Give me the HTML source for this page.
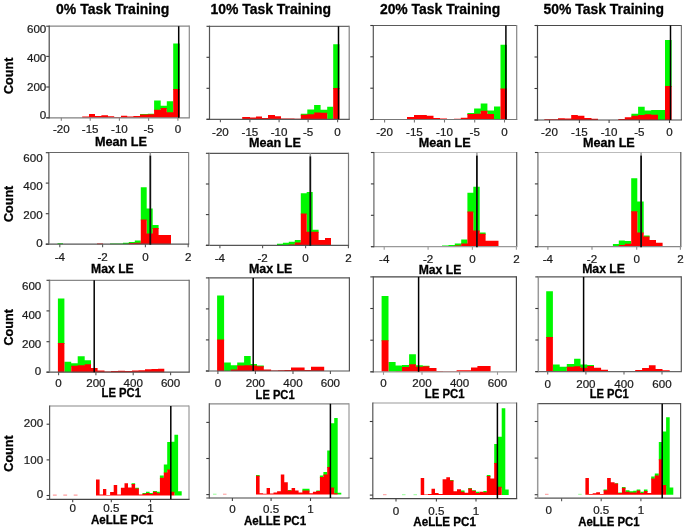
<!DOCTYPE html>
<html><head><meta charset="utf-8"><title>Task Training Histograms</title>
<style>
html,body{margin:0;padding:0;background:#fff;}
body{width:685px;height:529px;overflow:hidden;}
svg{display:block;filter:blur(0.35px);}
.ttl{font-family:"Liberation Sans",Arial,sans-serif;font-weight:bold;font-size:14.9px;fill:#000;stroke:#000;stroke-width:0.3px;}
.cnt{font-family:"Liberation Sans",Arial,sans-serif;font-weight:bold;font-size:13.4px;fill:#000;stroke:#000;stroke-width:0.3px;}
.xl{font-family:"Liberation Sans",Arial,sans-serif;font-weight:bold;font-size:12.4px;fill:#000;stroke:#000;stroke-width:0.3px;}
.tk{font-family:"Liberation Sans",Arial,sans-serif;font-size:11.6px;fill:#1a1a1a;stroke:#1a1a1a;stroke-width:0.22px;}
</style></head>
<body>
<svg width="685" height="529" viewBox="0 0 685 529">
<rect width="685" height="529" fill="#fff"/>
<text class="ttl" x="56.1" y="14.1" textLength="113.2" lengthAdjust="spacingAndGlyphs">0% Task Training</text>
<text class="ttl" x="210.4" y="14.1" textLength="120.6" lengthAdjust="spacingAndGlyphs">10% Task Training</text>
<text class="ttl" x="379.9" y="14.1" textLength="120.4" lengthAdjust="spacingAndGlyphs">20% Task Training</text>
<text class="ttl" x="543.5" y="14.1" textLength="120.4" lengthAdjust="spacingAndGlyphs">50% Task Training</text>
<text class="cnt" transform="translate(13.0 75.8) rotate(-90)" x="0" y="0" text-anchor="middle" textLength="36.4" lengthAdjust="spacingAndGlyphs">Count</text>
<text class="cnt" transform="translate(13.0 203.9) rotate(-90)" x="0" y="0" text-anchor="middle" textLength="36.4" lengthAdjust="spacingAndGlyphs">Count</text>
<text class="cnt" transform="translate(13.0 327.3) rotate(-90)" x="0" y="0" text-anchor="middle" textLength="36.4" lengthAdjust="spacingAndGlyphs">Count</text>
<text class="cnt" transform="translate(13.0 453.5) rotate(-90)" x="0" y="0" text-anchor="middle" textLength="36.4" lengthAdjust="spacingAndGlyphs">Count</text>
<path d="M140 114H147.8V115.5H140ZM147.8 113.7H154.1V115.3H147.8ZM154.1 100.4H160.7V110.7H154.1ZM160.7 105.7H166.8V108.9H160.7ZM166.8 101.3H173.2V113.3H166.8ZM173.2 43.5H179.8V89.9H173.2Z" fill="#00f800"/>
<path d="M82.2 116.6H89V117.8H82.2ZM89 113.9H95V117.8H89ZM95 116H101.4V117.8H95ZM101.4 115.2H108V117.8H101.4ZM108 116.3H114.2V117.8H108ZM114.2 117H121V117.8H114.2ZM121 115.8H127.2V117.8H121ZM127.2 116.5H133.4V117.8H127.2ZM133.4 116H140V117.8H133.4ZM140 114.5H147.8V117.8H140ZM147.8 114.3H154.1V117.8H147.8ZM154.1 109.7H160.7V117.8H154.1ZM160.7 107.9H166.8V117.8H160.7ZM166.8 112.3H173.2V117.8H166.8ZM173.2 88.9H179.8V117.8H173.2Z" fill="#ff0000"/>
<path d="M49.2 26.2H189.3" fill="none" stroke="#858585" stroke-width="1.2"/>
<path d="M189.3 25.6V117.8" fill="none" stroke="#8a8a8a" stroke-width="1.2"/>
<path d="M46.2 117.8H189.9" fill="none" stroke="#808080" stroke-width="1.2"/>
<path d="M49.2 25.6V118.4" fill="none" stroke="#4a4a4a" stroke-width="1.2"/>
<path d="M46.2 26.2H49.2" stroke="#3a3a3a" stroke-width="1.1"/>
<path d="M46.2 56.4H49.2" stroke="#3a3a3a" stroke-width="1.1"/>
<path d="M46.2 87H49.2" stroke="#3a3a3a" stroke-width="1.1"/>
<path d="M46.2 117.8H49.2" stroke="#3a3a3a" stroke-width="1.1"/>
<path d="M61.3 117.8V120.8" stroke="#808080" stroke-width="1.1"/>
<path d="M90.2 117.8V120.8" stroke="#808080" stroke-width="1.1"/>
<path d="M119.4 117.8V120.8" stroke="#808080" stroke-width="1.1"/>
<path d="M148.6 117.8V120.8" stroke="#808080" stroke-width="1.1"/>
<path d="M177.9 117.8V120.8" stroke="#808080" stroke-width="1.1"/>
<path d="M178.7 26.2V117.8" stroke="#000" stroke-width="1.5"/>
<text class="tk" x="46.3" y="33.3" text-anchor="end">600</text>
<text class="tk" x="46.3" y="61.9" text-anchor="end">400</text>
<text class="tk" x="46.3" y="91.2" text-anchor="end">200</text>
<text class="tk" x="46.3" y="118.8" text-anchor="end">0</text>
<text class="tk" x="61.3" y="133.1" text-anchor="middle">-20</text>
<text class="tk" x="90.2" y="133.1" text-anchor="middle">-15</text>
<text class="tk" x="119.4" y="133.1" text-anchor="middle">-10</text>
<text class="tk" x="148.6" y="133.1" text-anchor="middle">-5</text>
<text class="tk" x="177.9" y="133.1" text-anchor="middle">0</text>
<text class="xl" x="94.9" y="145.6" textLength="52.1" lengthAdjust="spacingAndGlyphs">Mean LE</text>
<path d="M300.8 113.7H307.3V115.7H300.8ZM307.3 109.4H314.1V115.3H307.3ZM314.1 105H320.6V113.4H314.1ZM320.6 109.8H327.2V113.7H320.6ZM327.2 106.8H333.2V119.3H327.2ZM333.2 44.2H339.5V89.1H333.2Z" fill="#00f800"/>
<path d="M242.2 117H250V119.3H242.2ZM250 117.5H256V119.3H250ZM256 116.4H262V119.3H256ZM262 117.9H268V119.3H262ZM268 115H275V119.3H268ZM275 116.3H281V119.3H275ZM281 118.4H288V119.3H281ZM288 118.5H294.5V119.3H288ZM294.5 118.8H300.8V119.3H294.5ZM300.8 114.7H307.3V119.3H300.8ZM307.3 114.3H314.1V119.3H307.3ZM314.1 112.4H320.6V119.3H314.1ZM320.6 112.7H327.2V119.3H320.6ZM333.2 88.1H339.5V119.3H333.2Z" fill="#ff0000"/>
<path d="M209.5 26.3H349.2" fill="none" stroke="#6a6a6a" stroke-width="1.2"/>
<path d="M349.2 25.7V119.3" fill="none" stroke="#808080" stroke-width="1.2"/>
<path d="M206.5 119.3H349.8" fill="none" stroke="#5a5a5a" stroke-width="1.2"/>
<path d="M209.5 25.7V119.9" fill="none" stroke="#555" stroke-width="1.2"/>
<path d="M206.5 26.3H209.5" stroke="#3a3a3a" stroke-width="1.1"/>
<path d="M206.5 57.3H209.5" stroke="#3a3a3a" stroke-width="1.1"/>
<path d="M206.5 88.3H209.5" stroke="#3a3a3a" stroke-width="1.1"/>
<path d="M206.5 119.3H209.5" stroke="#3a3a3a" stroke-width="1.1"/>
<path d="M220.4 119.3V122.3" stroke="#5a5a5a" stroke-width="1.1"/>
<path d="M249.9 119.3V122.3" stroke="#5a5a5a" stroke-width="1.1"/>
<path d="M279.1 119.3V122.3" stroke="#5a5a5a" stroke-width="1.1"/>
<path d="M308.1 119.3V122.3" stroke="#5a5a5a" stroke-width="1.1"/>
<path d="M337.6 119.3V122.3" stroke="#5a5a5a" stroke-width="1.1"/>
<path d="M338.5 26.3V119.3" stroke="#000" stroke-width="1.5"/>
<text class="tk" x="220.4" y="135.5" text-anchor="middle">-20</text>
<text class="tk" x="249.9" y="135.5" text-anchor="middle">-15</text>
<text class="tk" x="279.1" y="135.5" text-anchor="middle">-10</text>
<text class="tk" x="308.1" y="135.5" text-anchor="middle">-5</text>
<text class="tk" x="337.6" y="135.5" text-anchor="middle">0</text>
<text class="xl" x="249.1" y="146.5" textLength="51.8" lengthAdjust="spacingAndGlyphs">Mean LE</text>
<path d="M467.4 113H474.1V115H467.4ZM474.1 108.4H480.7V114.7H474.1ZM480.7 103.4H487.4V111.8H480.7ZM487.4 110.4H494V115H487.4ZM494 106.4H500.5V119.5H494ZM500.5 44.8H506.9V89.5H500.5Z" fill="#00f800"/>
<path d="M407 117H414V119.5H407ZM414 115H426.8V119.5H414ZM426.8 115.8H433.5V119.5H426.8ZM433.5 117.9H440V119.5H433.5ZM440 118.5H447V119.5H440ZM447 119H454V119.5H447ZM454 118.8H460.8V119.5H454ZM460.8 117.7H467.4V119.5H460.8ZM467.4 114H474.1V119.5H467.4ZM474.1 113.7H480.7V119.5H474.1ZM480.7 110.8H487.4V119.5H480.7ZM487.4 114H494V119.5H487.4ZM500.5 88.5H506.9V119.5H500.5Z" fill="#ff0000"/>
<path d="M373.3 25.5H516.7" fill="none" stroke="#5a5a5a" stroke-width="1.2"/>
<path d="M516.7 24.9V119.5" fill="none" stroke="#858585" stroke-width="1.2"/>
<path d="M370.3 119.5H517.3" fill="none" stroke="#777" stroke-width="1.2"/>
<path d="M373.3 24.9V120.1" fill="none" stroke="#555" stroke-width="1.2"/>
<path d="M370.3 25.5H373.3" stroke="#3a3a3a" stroke-width="1.1"/>
<path d="M370.3 56.8H373.3" stroke="#3a3a3a" stroke-width="1.1"/>
<path d="M370.3 88.2H373.3" stroke="#3a3a3a" stroke-width="1.1"/>
<path d="M370.3 119.5H373.3" stroke="#3a3a3a" stroke-width="1.1"/>
<path d="M384.6 119.5V122.5" stroke="#777" stroke-width="1.1"/>
<path d="M414.4 119.5V122.5" stroke="#777" stroke-width="1.1"/>
<path d="M444.5 119.5V122.5" stroke="#777" stroke-width="1.1"/>
<path d="M474.7 119.5V122.5" stroke="#777" stroke-width="1.1"/>
<path d="M504.5 119.5V122.5" stroke="#777" stroke-width="1.1"/>
<path d="M505.9 25.5V119.5" stroke="#000" stroke-width="1.5"/>
<text class="tk" x="384.6" y="135.7" text-anchor="middle">-20</text>
<text class="tk" x="414.4" y="135.7" text-anchor="middle">-15</text>
<text class="tk" x="444.5" y="135.7" text-anchor="middle">-10</text>
<text class="tk" x="474.7" y="135.7" text-anchor="middle">-5</text>
<text class="tk" x="504.5" y="135.7" text-anchor="middle">0</text>
<text class="xl" x="418.7" y="147" textLength="51.9" lengthAdjust="spacingAndGlyphs">Mean LE</text>
<path d="M631.4 113.7H638.1V116.7H631.4ZM638.1 106.8H644.7V116H638.1ZM644.7 110.4H651.2V115.3H644.7ZM651.2 110H658V115.7H651.2ZM658 110H665V120H658ZM665 40H671.6V87.1H665Z" fill="#00f800"/>
<path d="M544.3 119.3H558V120H544.3ZM558 118.3H564.8V120H558ZM564.8 118.5H571.2V120H564.8ZM571.2 115.1H577.8V120H571.2ZM577.8 115.8H584.4V120H577.8ZM584.4 117.9H591.5V120H584.4ZM591.5 118.7H598V120H591.5ZM618.3 118.9H624.8V120H618.3ZM624.8 117.3H631.4V120H624.8ZM631.4 115.7H638.1V120H631.4ZM638.1 115H644.7V120H638.1ZM644.7 114.3H651.2V120H644.7ZM651.2 114.7H658V120H651.2ZM665 86.1H671.6V120H665Z" fill="#ff0000"/>
<path d="M537.5 25.5H681.4" fill="none" stroke="#4a4a4a" stroke-width="1.2"/>
<path d="M681.4 24.9V120" fill="none" stroke="#777" stroke-width="1.2"/>
<path d="M534.5 120H682" fill="none" stroke="#4a4a4a" stroke-width="1.2"/>
<path d="M537.5 24.9V120.6" fill="none" stroke="#444" stroke-width="1.2"/>
<path d="M534.5 25.5H537.5" stroke="#3a3a3a" stroke-width="1.1"/>
<path d="M534.5 57H537.5" stroke="#3a3a3a" stroke-width="1.1"/>
<path d="M534.5 88.5H537.5" stroke="#3a3a3a" stroke-width="1.1"/>
<path d="M534.5 120H537.5" stroke="#3a3a3a" stroke-width="1.1"/>
<path d="M549.5 120V123" stroke="#4a4a4a" stroke-width="1.1"/>
<path d="M579.4 120V123" stroke="#4a4a4a" stroke-width="1.1"/>
<path d="M609.1 120V123" stroke="#4a4a4a" stroke-width="1.1"/>
<path d="M639.3 120V123" stroke="#4a4a4a" stroke-width="1.1"/>
<path d="M669.5 120V123" stroke="#4a4a4a" stroke-width="1.1"/>
<path d="M670.5 25.5V120" stroke="#000" stroke-width="1.5"/>
<text class="tk" x="549.5" y="136.4" text-anchor="middle">-20</text>
<text class="tk" x="579.4" y="136.4" text-anchor="middle">-15</text>
<text class="tk" x="609.1" y="136.4" text-anchor="middle">-10</text>
<text class="tk" x="639.3" y="136.4" text-anchor="middle">-5</text>
<text class="tk" x="669.5" y="136.4" text-anchor="middle">0</text>
<text class="xl" x="582.9" y="147" textLength="51.9" lengthAdjust="spacingAndGlyphs">Mean LE</text>
<path d="M57.5 243.3H63V244.2H57.5ZM110 243.4H122.9V244.2H110ZM122.9 242.8H128.8V244.2H122.9ZM128.8 242H134.8V244H128.8ZM134.8 240.4H140.8V243.8H134.8ZM140.8 187.3H146.7V220.5H140.8ZM146.7 208.6H152.7V234.4H146.7ZM152.7 224.9H158.6V229.1H152.7Z" fill="#00f800"/>
<path d="M97 243.4H103V244.2H97ZM128.8 243H134.8V244.2H128.8ZM134.8 242.8H140.8V244.2H134.8ZM140.8 219.5H146.7V244.2H140.8ZM146.7 233.4H152.7V244.2H146.7ZM152.7 228.1H158.6V244.2H152.7ZM158.6 235H171V244.2H158.6Z" fill="#ff0000"/>
<path d="M48.8 152.5H188.6" fill="none" stroke="#666" stroke-width="1.2"/>
<path d="M188.6 151.9V244.2" fill="none" stroke="#888" stroke-width="1.2"/>
<path d="M45.8 244.2H189.2" fill="none" stroke="#555" stroke-width="1.2"/>
<path d="M48.8 151.9V244.8" fill="none" stroke="#777" stroke-width="1.5"/>
<path d="M45.8 152.7H48.8" stroke="#3a3a3a" stroke-width="1.1"/>
<path d="M45.8 183.1H48.8" stroke="#3a3a3a" stroke-width="1.1"/>
<path d="M45.8 213.7H48.8" stroke="#3a3a3a" stroke-width="1.1"/>
<path d="M45.8 244.2H48.8" stroke="#3a3a3a" stroke-width="1.1"/>
<path d="M59.8 244.2V247.2" stroke="#555" stroke-width="1.1"/>
<path d="M102.6 244.2V247.2" stroke="#555" stroke-width="1.1"/>
<path d="M145.4 244.2V247.2" stroke="#555" stroke-width="1.1"/>
<path d="M188.2 244.2V247.2" stroke="#555" stroke-width="1.1"/>
<path d="M150.3 152.5V155.5" stroke="#999" stroke-width="1.5"/>
<path d="M150.3 155.5V244.7" stroke="#111" stroke-width="1.8"/>
<text class="tk" x="42.7" y="162" text-anchor="end">600</text>
<text class="tk" x="42.7" y="190.2" text-anchor="end">400</text>
<text class="tk" x="42.7" y="218.6" text-anchor="end">200</text>
<text class="tk" x="42.7" y="246.9" text-anchor="end">0</text>
<text class="tk" x="59.8" y="261.1" text-anchor="middle">-4</text>
<text class="tk" x="102.6" y="261.1" text-anchor="middle">-2</text>
<text class="tk" x="145.4" y="261.1" text-anchor="middle">0</text>
<text class="tk" x="188.2" y="261.1" text-anchor="middle">2</text>
<text class="xl" x="91.1" y="273" textLength="42.6" lengthAdjust="spacingAndGlyphs">Max LE</text>
<path d="M277 243.8H282.9V245.3H277ZM282.9 242.8H288.8V245.3H282.9ZM288.8 241.8H294.8V245.3H288.8ZM294.8 240H300.8V243.4H294.8ZM300.8 193.3H306.7V214.5H300.8ZM306.7 192.1H312.7V232.8H306.7ZM312.7 229.8H318.6V232.8H312.7Z" fill="#00f800"/>
<path d="M288.8 244.5H294.8V245.3H288.8ZM294.8 242.4H300.8V245.3H294.8ZM300.8 213.5H306.7V245.3H300.8ZM306.7 231.8H312.7V245.3H306.7ZM312.7 231.8H318.6V245.3H312.7ZM318.6 240H325V245.3H318.6ZM325 238H331V245.3H325Z" fill="#ff0000"/>
<path d="M208.9 153.3H348.5" fill="none" stroke="#555" stroke-width="1.2"/>
<path d="M348.5 152.7V245.3" fill="none" stroke="#777" stroke-width="1.2"/>
<path d="M205.9 245.3H349.1" fill="none" stroke="#555" stroke-width="1.2"/>
<path d="M208.9 152.7V245.9" fill="none" stroke="#888" stroke-width="1.5"/>
<path d="M205.9 153.3H208.9" stroke="#3a3a3a" stroke-width="1.1"/>
<path d="M205.9 184H208.9" stroke="#3a3a3a" stroke-width="1.1"/>
<path d="M205.9 214.6H208.9" stroke="#3a3a3a" stroke-width="1.1"/>
<path d="M205.9 245.3H208.9" stroke="#3a3a3a" stroke-width="1.1"/>
<path d="M219.9 245.3V248.3" stroke="#555" stroke-width="1.1"/>
<path d="M262.6 245.3V248.3" stroke="#555" stroke-width="1.1"/>
<path d="M305.6 245.3V248.3" stroke="#555" stroke-width="1.1"/>
<path d="M348.4 245.3V248.3" stroke="#555" stroke-width="1.1"/>
<path d="M310.3 153.3V156.3" stroke="#999" stroke-width="1.5"/>
<path d="M310.3 156.3V245.8" stroke="#111" stroke-width="1.8"/>
<text class="tk" x="219.9" y="261.8" text-anchor="middle">-4</text>
<text class="tk" x="262.6" y="261.8" text-anchor="middle">-2</text>
<text class="tk" x="305.6" y="261.8" text-anchor="middle">0</text>
<text class="tk" x="348.4" y="261.8" text-anchor="middle">2</text>
<text class="xl" x="249" y="272.9" textLength="43.3" lengthAdjust="spacingAndGlyphs">Max LE</text>
<path d="M442 245.5H448.5V246.7H442ZM448.5 245H454.8V246.7H448.5ZM454.8 243.4H461.2V246.5H454.8ZM461.2 239.4H467.4V244.4H461.2ZM467.4 192.7H473.3V212.6H467.4ZM473.3 186.7H479.7V231.4H473.3ZM479.7 232.4H485.6V234.8H479.7Z" fill="#00f800"/>
<path d="M454.8 245.5H461.2V246.7H454.8ZM461.2 243.4H467.4V246.7H461.2ZM467.4 211.6H473.3V246.7H467.4ZM473.3 230.4H479.7V246.7H473.3ZM479.7 233.8H485.6V246.7H479.7ZM485.6 240.8H498.5V246.7H485.6Z" fill="#ff0000"/>
<path d="M373.9 152.5H516.7" fill="none" stroke="#bbb" stroke-width="1.2"/>
<path d="M516.7 151.9V246.7" fill="none" stroke="#555" stroke-width="1.2"/>
<path d="M370.9 246.7H517.3" fill="none" stroke="#999" stroke-width="1.2"/>
<path d="M373.9 151.9V247.3" fill="none" stroke="#666" stroke-width="1.2"/>
<path d="M370.9 152.5H373.9" stroke="#3a3a3a" stroke-width="1.1"/>
<path d="M370.9 183.9H373.9" stroke="#3a3a3a" stroke-width="1.1"/>
<path d="M370.9 215.3H373.9" stroke="#3a3a3a" stroke-width="1.1"/>
<path d="M370.9 246.7H373.9" stroke="#3a3a3a" stroke-width="1.1"/>
<path d="M384.2 246.7V249.7" stroke="#999" stroke-width="1.1"/>
<path d="M428.1 246.7V249.7" stroke="#999" stroke-width="1.1"/>
<path d="M472.4 246.7V249.7" stroke="#999" stroke-width="1.1"/>
<path d="M516.4 246.7V249.7" stroke="#999" stroke-width="1.1"/>
<path d="M476.9 152.5V155.5" stroke="#999" stroke-width="1.5"/>
<path d="M476.9 155.5V247.2" stroke="#111" stroke-width="1.8"/>
<text class="tk" x="384.2" y="263" text-anchor="middle">-4</text>
<text class="tk" x="428.1" y="263" text-anchor="middle">-2</text>
<text class="tk" x="472.4" y="263" text-anchor="middle">0</text>
<text class="tk" x="516.4" y="263" text-anchor="middle">2</text>
<text class="xl" x="418.7" y="273.6" textLength="42.6" lengthAdjust="spacingAndGlyphs">Max LE</text>
<path d="M612.9 244H618.8V246.7H612.9ZM618.8 240.4H624.8V246H618.8ZM624.8 241H631.2V244.7H624.8ZM631.2 178.2H637.3V212.2H631.2ZM637.3 201.6H643.7V233.4H637.3ZM643.7 235.4H649.6V237.4H643.7Z" fill="#00f800"/>
<path d="M618.8 245H624.8V246.7H618.8ZM624.8 243.7H631.2V246.7H624.8ZM631.2 211.2H637.3V246.7H631.2ZM637.3 232.4H643.7V246.7H637.3ZM643.7 236.4H649.6V246.7H643.7ZM649.6 240H656V246.7H649.6ZM656 242.8H662.6V246.7H656Z" fill="#ff0000"/>
<path d="M537.9 152.5H680.8" fill="none" stroke="#bbb" stroke-width="1.2"/>
<path d="M680.8 151.9V246.7" fill="none" stroke="#555" stroke-width="1.2"/>
<path d="M534.9 246.7H681.4" fill="none" stroke="#888" stroke-width="1.2"/>
<path d="M537.9 151.9V247.3" fill="none" stroke="#888" stroke-width="1.5"/>
<path d="M534.9 152.5H537.9" stroke="#3a3a3a" stroke-width="1.1"/>
<path d="M534.9 183.9H537.9" stroke="#3a3a3a" stroke-width="1.1"/>
<path d="M534.9 215.3H537.9" stroke="#3a3a3a" stroke-width="1.1"/>
<path d="M534.9 246.7H537.9" stroke="#3a3a3a" stroke-width="1.1"/>
<path d="M547.9 246.7V249.7" stroke="#888" stroke-width="1.1"/>
<path d="M592 246.7V249.7" stroke="#888" stroke-width="1.1"/>
<path d="M636.7 246.7V249.7" stroke="#888" stroke-width="1.1"/>
<path d="M680.4 246.7V249.7" stroke="#888" stroke-width="1.1"/>
<path d="M641.1 152.5V155.5" stroke="#999" stroke-width="1.5"/>
<path d="M641.1 155.5V247.2" stroke="#111" stroke-width="1.8"/>
<text class="tk" x="547.9" y="263.4" text-anchor="middle">-4</text>
<text class="tk" x="592" y="263.4" text-anchor="middle">-2</text>
<text class="tk" x="636.7" y="263.4" text-anchor="middle">0</text>
<text class="tk" x="680.4" y="263.4" text-anchor="middle">2</text>
<text class="xl" x="582.2" y="273.4" textLength="42.8" lengthAdjust="spacingAndGlyphs">Max LE</text>
<path d="M57.9 298.4H64.4V343.9H57.9ZM64.4 361.7H71.2V372.2H64.4ZM71.2 363.3H77.7V366.7H71.2ZM77.7 356.3H84.7V366.3H77.7ZM84.7 360.3H91V365.3H84.7Z" fill="#00f800"/>
<path d="M57.9 342.9H64.4V372.2H57.9ZM71.2 365.7H77.7V372.2H71.2ZM77.7 365.3H84.7V372.2H77.7ZM84.7 364.3H91V372.2H84.7ZM91 367.9H97.6V372.2H91ZM97.6 370.6H104.5V372.2H97.6ZM104.5 371.5H111V372.2H104.5ZM111 371H118V372.2H111ZM118 370.8H125V372.2H118ZM125 371H132V372.2H125ZM132 370.5H138.5V372.2H132ZM138.5 370.2H145V372.2H138.5ZM145 369.2H151.5V372.2H145ZM151.5 369H158V372.2H151.5ZM158 368.8H164.3V372.2H158Z" fill="#ff0000"/>
<path d="M49.5 280.3H189.2" fill="none" stroke="#888" stroke-width="1.2"/>
<path d="M189.2 279.7V372.2" fill="none" stroke="#666" stroke-width="1.2"/>
<path d="M46.5 372.2H189.8" fill="none" stroke="#555" stroke-width="1.2"/>
<path d="M49.5 279.7V372.8" fill="none" stroke="#888" stroke-width="1.5"/>
<path d="M46.5 280.3H49.5" stroke="#3a3a3a" stroke-width="1.1"/>
<path d="M46.5 310.9H49.5" stroke="#3a3a3a" stroke-width="1.1"/>
<path d="M46.5 341.7H49.5" stroke="#3a3a3a" stroke-width="1.1"/>
<path d="M46.5 372.2H49.5" stroke="#3a3a3a" stroke-width="1.1"/>
<path d="M58.6 372.2V375.2" stroke="#555" stroke-width="1.1"/>
<path d="M95.9 372.2V375.2" stroke="#555" stroke-width="1.1"/>
<path d="M133.2 372.2V375.2" stroke="#555" stroke-width="1.1"/>
<path d="M170.6 372.2V375.2" stroke="#555" stroke-width="1.1"/>
<path d="M94.2 280.3V372.2" stroke="#000" stroke-width="1.5"/>
<text class="tk" x="41.3" y="289.9" text-anchor="end">600</text>
<text class="tk" x="41.3" y="318.8" text-anchor="end">400</text>
<text class="tk" x="41.3" y="347.7" text-anchor="end">200</text>
<text class="tk" x="41.3" y="375.3" text-anchor="end">0</text>
<text class="tk" x="58.6" y="387.3" text-anchor="middle">0</text>
<text class="tk" x="95.9" y="387.3" text-anchor="middle">200</text>
<text class="tk" x="133.2" y="387.3" text-anchor="middle">400</text>
<text class="tk" x="170.6" y="387.3" text-anchor="middle">600</text>
<text class="xl" x="101.6" y="397.2" textLength="39.4" lengthAdjust="spacingAndGlyphs">LE PC1</text>
<path d="M217.1 295.4H224.1V340.6H217.1ZM224.1 362.5H230.8V371H224.1ZM230.8 365.2H237.2V370.4H230.8ZM237.2 362.5H244.1V366.6H237.2ZM244.1 355.9H250.7V366.2H244.1ZM250.7 364H257V366.6H250.7ZM257 365.6H263.8V367.3H257Z" fill="#00f800"/>
<path d="M217.1 339.6H224.1V371H217.1ZM230.8 369.4H237.2V371H230.8ZM237.2 365.6H244.1V371H237.2ZM244.1 365.2H250.7V371H244.1ZM250.7 365.6H257V371H250.7ZM257 366.3H263.8V371H257ZM263.8 369.4H271.1V371H263.8ZM271.1 370.5H278V371H271.1ZM278 370.3H284.5V371H278ZM284.5 370H291V371H284.5ZM291 367.6H304.6V371H291ZM304.6 370H311V371H304.6ZM311 366.8H324.2V371H311Z" fill="#ff0000"/>
<path d="M208.9 277.9H349.4" fill="none" stroke="#555" stroke-width="1.2"/>
<path d="M349.4 277.3V371" fill="none" stroke="#555" stroke-width="1.2"/>
<path d="M205.9 371H350" fill="none" stroke="#555" stroke-width="1.2"/>
<path d="M208.9 277.3V371.6" fill="none" stroke="#888" stroke-width="1.5"/>
<path d="M205.9 277.9H208.9" stroke="#3a3a3a" stroke-width="1.1"/>
<path d="M205.9 308.9H208.9" stroke="#3a3a3a" stroke-width="1.1"/>
<path d="M205.9 339.9H208.9" stroke="#3a3a3a" stroke-width="1.1"/>
<path d="M205.9 371H208.9" stroke="#3a3a3a" stroke-width="1.1"/>
<path d="M217.9 371V374" stroke="#555" stroke-width="1.1"/>
<path d="M255.4 371V374" stroke="#555" stroke-width="1.1"/>
<path d="M293 371V374" stroke="#555" stroke-width="1.1"/>
<path d="M330.4 371V374" stroke="#555" stroke-width="1.1"/>
<path d="M253.2 277.9V371" stroke="#000" stroke-width="1.5"/>
<text class="tk" x="217.9" y="387.2" text-anchor="middle">0</text>
<text class="tk" x="255.4" y="387.2" text-anchor="middle">200</text>
<text class="tk" x="293" y="387.2" text-anchor="middle">400</text>
<text class="tk" x="330.4" y="387.2" text-anchor="middle">600</text>
<text class="xl" x="255.6" y="398.6" textLength="39" lengthAdjust="spacingAndGlyphs">LE PC1</text>
<path d="M381.6 296H388.5V341.3H381.6ZM388.5 362.1H395.6V371.8H388.5ZM395.6 365.6H402V371.8H395.6ZM402 365H409.1V368.1H402ZM409.1 354.2H415.9V365.2H409.1ZM415.9 365.2H422.8V367.7H415.9ZM422.8 365.8H429.4V367.3H422.8Z" fill="#00f800"/>
<path d="M381.6 340.3H388.5V371.8H381.6ZM395.6 371.2H402V371.8H395.6ZM402 367.1H409.1V371.8H402ZM409.1 364.2H415.9V371.8H409.1ZM415.9 366.7H422.8V371.8H415.9ZM422.8 366.3H429.4V371.8H422.8ZM429.4 368.1H436.5V371.8H429.4ZM436.5 371H443V371.8H436.5ZM443 371.3H456.6V371.8H443ZM456.6 370.2H471V371.8H456.6ZM471 367.6H477.4V371.8H471ZM477.4 366H490.6V371.8H477.4Z" fill="#ff0000"/>
<path d="M373.3 276.9H516.4" fill="none" stroke="#444" stroke-width="1.2"/>
<path d="M516.4 276.3V371.8" fill="none" stroke="#444" stroke-width="1.2"/>
<path d="M370.3 371.8H517" fill="none" stroke="#999" stroke-width="1.2"/>
<path d="M373.3 276.3V372.4" fill="none" stroke="#555" stroke-width="1.2"/>
<path d="M370.3 276.9H373.3" stroke="#3a3a3a" stroke-width="1.1"/>
<path d="M370.3 308.5H373.3" stroke="#3a3a3a" stroke-width="1.1"/>
<path d="M370.3 340.2H373.3" stroke="#3a3a3a" stroke-width="1.1"/>
<path d="M370.3 371.8H373.3" stroke="#3a3a3a" stroke-width="1.1"/>
<path d="M383.5 371.8V374.8" stroke="#999" stroke-width="1.1"/>
<path d="M422 371.8V374.8" stroke="#999" stroke-width="1.1"/>
<path d="M459.6 371.8V374.8" stroke="#999" stroke-width="1.1"/>
<path d="M497.5 371.8V374.8" stroke="#999" stroke-width="1.1"/>
<path d="M418.6 276.9V371.8" stroke="#000" stroke-width="1.5"/>
<text class="tk" x="383.5" y="387.4" text-anchor="middle">0</text>
<text class="tk" x="422" y="387.4" text-anchor="middle">200</text>
<text class="tk" x="459.6" y="387.4" text-anchor="middle">400</text>
<text class="tk" x="497.5" y="387.4" text-anchor="middle">600</text>
<text class="xl" x="424.8" y="398.1" textLength="39.8" lengthAdjust="spacingAndGlyphs">LE PC1</text>
<path d="M546.2 291.2H552.9V337.9H546.2ZM552.9 364.6H559.7V371.6H552.9ZM559.7 366.7H566.8V371.6H559.7ZM566.8 364H574.1V367.7H566.8ZM574.1 358.8H580.5V367.3H574.1ZM580.5 364.6H587.2V368.7H580.5ZM587.2 365H594V367H587.2Z" fill="#00f800"/>
<path d="M546.2 336.9H552.9V371.6H546.2ZM559.7 371H566.8V371.6H559.7ZM566.8 366.7H574.1V371.6H566.8ZM574.1 366.3H580.5V371.6H574.1ZM580.5 367.7H587.2V371.6H580.5ZM587.2 366H594V371.6H587.2ZM594 367.7H601.1V371.6H594ZM601.1 369.8H608V371.6H601.1ZM608 371.2H614.8V371.6H608ZM635.2 370H642.1V371.6H635.2ZM642.1 368.1H648.9V371.6H642.1ZM648.9 365.2H655.6V371.6H648.9ZM655.6 368.9H662.5V371.6H655.6ZM662.5 370.2H669.7V371.6H662.5ZM669.7 371H676V371.6H669.7Z" fill="#ff0000"/>
<path d="M538.3 276.9H681.3" fill="none" stroke="#555" stroke-width="1.2"/>
<path d="M681.3 276.3V371.6" fill="none" stroke="#555" stroke-width="1.2"/>
<path d="M535.3 371.6H681.9" fill="none" stroke="#666" stroke-width="1.2"/>
<path d="M538.3 276.3V372.2" fill="none" stroke="#999" stroke-width="1.5"/>
<path d="M535.3 276.9H538.3" stroke="#3a3a3a" stroke-width="1.1"/>
<path d="M535.3 308.5H538.3" stroke="#3a3a3a" stroke-width="1.1"/>
<path d="M535.3 340H538.3" stroke="#3a3a3a" stroke-width="1.1"/>
<path d="M535.3 371.6H538.3" stroke="#3a3a3a" stroke-width="1.1"/>
<path d="M547.7 371.6V374.6" stroke="#666" stroke-width="1.1"/>
<path d="M585.9 371.6V374.6" stroke="#666" stroke-width="1.1"/>
<path d="M624 371.6V374.6" stroke="#666" stroke-width="1.1"/>
<path d="M662 371.6V374.6" stroke="#666" stroke-width="1.1"/>
<path d="M583.6 276.9V371.6" stroke="#000" stroke-width="1.5"/>
<text class="tk" x="547.7" y="387.6" text-anchor="middle">0</text>
<text class="tk" x="585.9" y="387.6" text-anchor="middle">200</text>
<text class="tk" x="624" y="387.6" text-anchor="middle">400</text>
<text class="tk" x="662" y="387.6" text-anchor="middle">600</text>
<text class="xl" x="589.8" y="398.1" textLength="39" lengthAdjust="spacingAndGlyphs">LE PC1</text>
<path d="M131.6 483.2H135.1V484.9H131.6ZM135.1 487.7H138.9V489.4H135.1ZM142.5 493.1H146V494.8H142.5ZM146 491.7H149.6V494.1H146ZM149.6 493H152.9V495H149.6ZM152.9 491H156.9V492.7H152.9ZM156.9 491.7H159.9V494.3H156.9ZM159.9 475.5H163.8V478.8H159.9ZM163.8 464.5H167.2V473.5H163.8ZM167.2 442.1H170.8V470.5H167.2ZM170.8 441.7H174.4V492.7H170.8ZM174.4 434.7H178.1V495.5H174.4ZM178.1 491.3H181.7V495.5H178.1Z" fill="#00f800"/>
<path d="M96 479.6H99.6V495.5H96ZM99.6 494.5H103V495.5H99.6ZM103 488.9H106.3V495.5H103ZM106.3 495H110.1V495.5H106.3ZM110.1 492H113.7V495.5H110.1ZM113.7 485H117.2V495.5H113.7ZM117.2 494.5H120.9V495.5H117.2ZM120.9 487.7H124.5V495.5H120.9ZM124.5 483.2H128V495.5H124.5ZM128 487.4H131.6V495.5H128ZM131.6 483.9H135.1V495.5H131.6ZM135.1 488.4H138.9V495.5H135.1ZM138.9 494.5H142.5V495.5H138.9ZM142.5 493.8H146V495.5H142.5ZM146 493.1H149.6V495.5H146ZM149.6 494H152.9V495.5H149.6ZM152.9 491.7H156.9V495.5H152.9ZM156.9 493.3H159.9V495.5H156.9ZM159.9 477.8H163.8V495.5H159.9ZM163.8 472.5H167.2V495.5H163.8ZM167.2 469.5H170.8V495.5H167.2ZM170.8 491.7H174.4V495.5H170.8Z" fill="#ff0000"/>
<rect x="52.9" y="494.6" width="3.8" height="1" fill="#f88"/>
<rect x="63.3" y="494.6" width="3.8" height="1" fill="#f88"/>
<rect x="73.7" y="494.6" width="3.8" height="1" fill="#f88"/>
<path d="M49.6 406H189" fill="none" stroke="#888" stroke-width="1.2"/>
<path d="M189 405.4V499.3" fill="none" stroke="#999" stroke-width="1.2"/>
<path d="M46.6 499.3H189.6" fill="none" stroke="#444" stroke-width="1.2"/>
<path d="M49.6 405.4V499.9" fill="none" stroke="#555" stroke-width="1.2"/>
<path d="M46.6 424.2H49.6" stroke="#3a3a3a" stroke-width="1.1"/>
<path d="M46.6 459.9H49.6" stroke="#3a3a3a" stroke-width="1.1"/>
<path d="M46.6 495.5H49.6" stroke="#3a3a3a" stroke-width="1.1"/>
<path d="M72.7 499.3V502.3" stroke="#444" stroke-width="1.1"/>
<path d="M111.3 499.3V502.3" stroke="#444" stroke-width="1.1"/>
<path d="M150.5 499.3V502.3" stroke="#444" stroke-width="1.1"/>
<path d="M170.8 406V499.3" stroke="#000" stroke-width="1.5"/>
<text class="tk" x="43.1" y="427" text-anchor="end">200</text>
<text class="tk" x="43.1" y="463.6" text-anchor="end">100</text>
<text class="tk" x="43.1" y="497.7" text-anchor="end">0</text>
<text class="tk" x="72.7" y="512.3" text-anchor="middle">0</text>
<text class="tk" x="111.3" y="512.3" text-anchor="middle">0.5</text>
<text class="tk" x="150.5" y="512.3" text-anchor="middle">1</text>
<text class="xl" x="90.9" y="523.6" textLength="62.4" lengthAdjust="spacingAndGlyphs">AeLLE PC1</text>
<path d="M256 475.1H259.6V476.8H256ZM287.8 490H291.6V491.5H287.8ZM302.4 488.8H306V491.4H302.4ZM306 488.8H309.5V491.4H306ZM316.3 490.4H319.9V492H316.3ZM319.9 475.5H323.4V478H319.9ZM323.4 471.9H327.2V475.5H323.4ZM327.2 450.6H330.4V467.9H327.2ZM330.4 423.2H334.2V488.4H330.4ZM334.2 417.9H337.7V494.3H334.2ZM337.7 492.7H341.3V494.6H337.7Z" fill="#00f800"/>
<path d="M256 475.8H259.6V494.6H256ZM259.6 493.3H263.1V494.6H259.6ZM263.1 493.8H266.6V494.6H263.1ZM266.6 488H270V494.6H266.6ZM270 493.5H273.5V494.6H270ZM273.5 492.6H277.1V494.6H273.5ZM277.1 491.3H280.8V494.6H277.1ZM280.8 474.4H284.3V494.6H280.8ZM284.3 482.3H287.8V494.6H284.3ZM287.8 490.5H291.6V494.6H287.8ZM291.6 488H295.1V494.6H291.6ZM295.1 490.6H298.6V494.6H295.1ZM298.6 492.6H302.4V494.6H298.6ZM302.4 490.4H306V494.6H302.4ZM306 490.4H309.5V494.6H306ZM309.5 493.3H312.9V494.6H309.5ZM312.9 491.7H316.3V494.6H312.9ZM316.3 491H319.9V494.6H316.3ZM319.9 477H323.4V494.6H319.9ZM323.4 474.5H327.2V494.6H323.4ZM327.2 466.9H330.4V494.6H327.2ZM330.4 487.4H334.2V494.6H330.4ZM334.2 493.3H337.7V494.6H334.2Z" fill="#ff0000"/>
<rect x="213" y="493.7" width="3.5" height="1" fill="#9f9"/>
<rect x="223" y="493.7" width="3.5" height="1" fill="#f99"/>
<path d="M209.3 403.8H349" fill="none" stroke="#888" stroke-width="1.2"/>
<path d="M349 403.2V498" fill="none" stroke="#999" stroke-width="1.2"/>
<path d="M206.3 498H349.6" fill="none" stroke="#444" stroke-width="1.2"/>
<path d="M209.3 403.2V498.6" fill="none" stroke="#555" stroke-width="1.2"/>
<path d="M206.3 422.4H209.3" stroke="#3a3a3a" stroke-width="1.1"/>
<path d="M206.3 458.5H209.3" stroke="#3a3a3a" stroke-width="1.1"/>
<path d="M206.3 494.6H209.3" stroke="#3a3a3a" stroke-width="1.1"/>
<path d="M232.4 498V501" stroke="#444" stroke-width="1.1"/>
<path d="M271.1 498V501" stroke="#444" stroke-width="1.1"/>
<path d="M310.5 498V501" stroke="#444" stroke-width="1.1"/>
<path d="M330.4 403.8V498" stroke="#000" stroke-width="1.5"/>
<text class="tk" x="232.4" y="513.3" text-anchor="middle">0</text>
<text class="tk" x="271.1" y="513.3" text-anchor="middle">0.5</text>
<text class="tk" x="310.5" y="513.3" text-anchor="middle">1</text>
<text class="xl" x="243.9" y="524.9" textLength="62.2" lengthAdjust="spacingAndGlyphs">AeLLE PC1</text>
<path d="M450 480.1H453.5V481.6H450ZM461 490.6H464.5V492.8H461ZM468.2 488H472V489.5H468.2ZM472 490.2H475.9V491.7H472ZM475.9 491.7H479.5V493.9H475.9ZM483.3 491H486.8V493.3H483.3ZM486.8 474.9H490.4V476.9H486.8ZM494.2 444.1H497.4V464.1H494.2ZM497.4 436.7H501.7V487.8H497.4ZM501.7 408.3H505.3V495.1H501.7ZM505.3 489.4H508.7V495.1H505.3Z" fill="#00f800"/>
<path d="M420.7 478.1H424.2V495.1H420.7ZM424.2 494.6H428V495.1H424.2ZM428 494H431.5V495.1H428ZM431.5 488.7H435V495.1H431.5ZM435 493H438.6V495.1H435ZM438.6 494H442.6V495.1H438.6ZM442.6 479.3H446.3V495.1H442.6ZM446.3 477.3H450V495.1H446.3ZM450 480.6H453.5V495.1H450ZM453.5 491.3H457V495.1H453.5ZM457 489.2H461V495.1H457ZM461 491.8H464.5V495.1H461ZM464.5 492.8H468.2V495.1H464.5ZM468.2 488.5H472V495.1H468.2ZM472 490.7H475.9V495.1H472ZM475.9 492.9H479.5V495.1H475.9ZM479.5 491.7H483.3V495.1H479.5ZM483.3 492.3H486.8V495.1H483.3ZM486.8 475.9H490.4V495.1H486.8ZM490.4 478.4H494.2V495.1H490.4ZM494.2 463.1H497.4V495.1H494.2ZM497.4 486.8H501.7V495.1H497.4Z" fill="#ff0000"/>
<rect x="383" y="494.2" width="3.5" height="1" fill="#f99"/>
<rect x="402" y="494.2" width="3.5" height="1" fill="#9f9"/>
<rect x="413.5" y="494.2" width="3.5" height="1" fill="#9f9"/>
<path d="M372.8 403H516.6" fill="none" stroke="#999" stroke-width="1.2"/>
<path d="M516.6 402.4V498.6" fill="none" stroke="#555" stroke-width="1.2"/>
<path d="M369.8 498.6H517.2" fill="none" stroke="#444" stroke-width="1.2"/>
<path d="M372.8 402.4V499.2" fill="none" stroke="#555" stroke-width="1.2"/>
<path d="M369.8 421.5H372.8" stroke="#3a3a3a" stroke-width="1.1"/>
<path d="M369.8 458.3H372.8" stroke="#3a3a3a" stroke-width="1.1"/>
<path d="M369.8 495.1H372.8" stroke="#3a3a3a" stroke-width="1.1"/>
<path d="M396 498.6V501.6" stroke="#444" stroke-width="1.1"/>
<path d="M436.4 498.6V501.6" stroke="#444" stroke-width="1.1"/>
<path d="M476 498.6V501.6" stroke="#444" stroke-width="1.1"/>
<path d="M497.4 403V498.6" stroke="#000" stroke-width="1.5"/>
<text class="tk" x="396" y="514.6" text-anchor="middle">0</text>
<text class="tk" x="436.4" y="514.6" text-anchor="middle">0.5</text>
<text class="tk" x="476" y="514.6" text-anchor="middle">1</text>
<text class="xl" x="413.3" y="525.6" textLength="62.7" lengthAdjust="spacingAndGlyphs">AeLLE PC1</text>
<path d="M603.6 489.6H607.1V491.2H603.6ZM614.6 483.2H618.1V484.6H614.6ZM618.1 492.4H621.9V494.1H618.1ZM621.9 487.1H625.5V488.8H621.9ZM625.5 490.2H629.5V492.7H625.5ZM629.5 491.3H633.2V493.4H629.5ZM633.2 490.8H636.7V493.6H633.2ZM636.7 489.4H640.3V491.5H636.7ZM640.3 491.7H643.9V493.9H640.3ZM643.9 489.4H647.5V492H643.9ZM651.2 476.5H654.8V479.4H651.2ZM654.8 473.5H658.8V476.5H654.8ZM658.8 442.1H662.2V460.2H658.8ZM662.2 431.4H666.1V486H662.2ZM666.1 417.3H669.7V494.7H666.1ZM669.7 487.4H673.3V494.7H669.7Z" fill="#00f800"/>
<path d="M585.4 478H588.9V494.7H585.4ZM588.9 494H592.7V494.7H588.9ZM592.7 493.3H596.2V494.7H592.7ZM596.2 492.2H600V494.7H596.2ZM600 494H603.6V494.7H600ZM603.6 490.2H607.1V494.7H603.6ZM607.1 478.1H610.8V494.7H607.1ZM610.8 482.2H614.6V494.7H610.8ZM614.6 483.6H618.1V494.7H614.6ZM618.1 493.1H621.9V494.7H618.1ZM621.9 487.8H625.5V494.7H621.9ZM625.5 491.7H629.5V494.7H625.5ZM629.5 492.4H633.2V494.7H629.5ZM633.2 492.6H636.7V494.7H633.2ZM636.7 490.5H640.3V494.7H636.7ZM640.3 492.9H643.9V494.7H640.3ZM643.9 491H647.5V494.7H643.9ZM647.5 492.9H651.2V494.7H647.5ZM651.2 478.4H654.8V494.7H651.2ZM654.8 475.5H658.8V494.7H654.8ZM658.8 459.2H662.2V494.7H658.8ZM662.2 485H666.1V494.7H662.2Z" fill="#ff0000"/>
<rect x="545" y="493.8" width="3.5" height="1" fill="#f99"/>
<rect x="578.2" y="493.8" width="3.5" height="1" fill="#9f9"/>
<path d="M537.7 403.7H680.6" fill="none" stroke="#555" stroke-width="1.2"/>
<path d="M680.6 403.1V498.2" fill="none" stroke="#555" stroke-width="1.2"/>
<path d="M534.7 498.2H681.2" fill="none" stroke="#555" stroke-width="1.2"/>
<path d="M537.7 403.1V498.8" fill="none" stroke="#999" stroke-width="1.5"/>
<path d="M534.7 421.5H537.7" stroke="#3a3a3a" stroke-width="1.1"/>
<path d="M534.7 458.1H537.7" stroke="#3a3a3a" stroke-width="1.1"/>
<path d="M534.7 494.7H537.7" stroke="#3a3a3a" stroke-width="1.1"/>
<path d="M561.6 498.2V501.2" stroke="#555" stroke-width="1.1"/>
<path d="M601.2 498.2V501.2" stroke="#555" stroke-width="1.1"/>
<path d="M640.9 498.2V501.2" stroke="#555" stroke-width="1.1"/>
<path d="M662.2 403.7V498.2" stroke="#000" stroke-width="1.5"/>
<text class="tk" x="548.7" y="514.4" text-anchor="middle">0</text>
<text class="tk" x="601.2" y="514.4" text-anchor="middle">0.5</text>
<text class="tk" x="640.9" y="514.4" text-anchor="middle">1</text>
<text class="xl" x="578.2" y="525.6" textLength="61.4" lengthAdjust="spacingAndGlyphs">AeLLE PC1</text>
</svg>
</body></html>
